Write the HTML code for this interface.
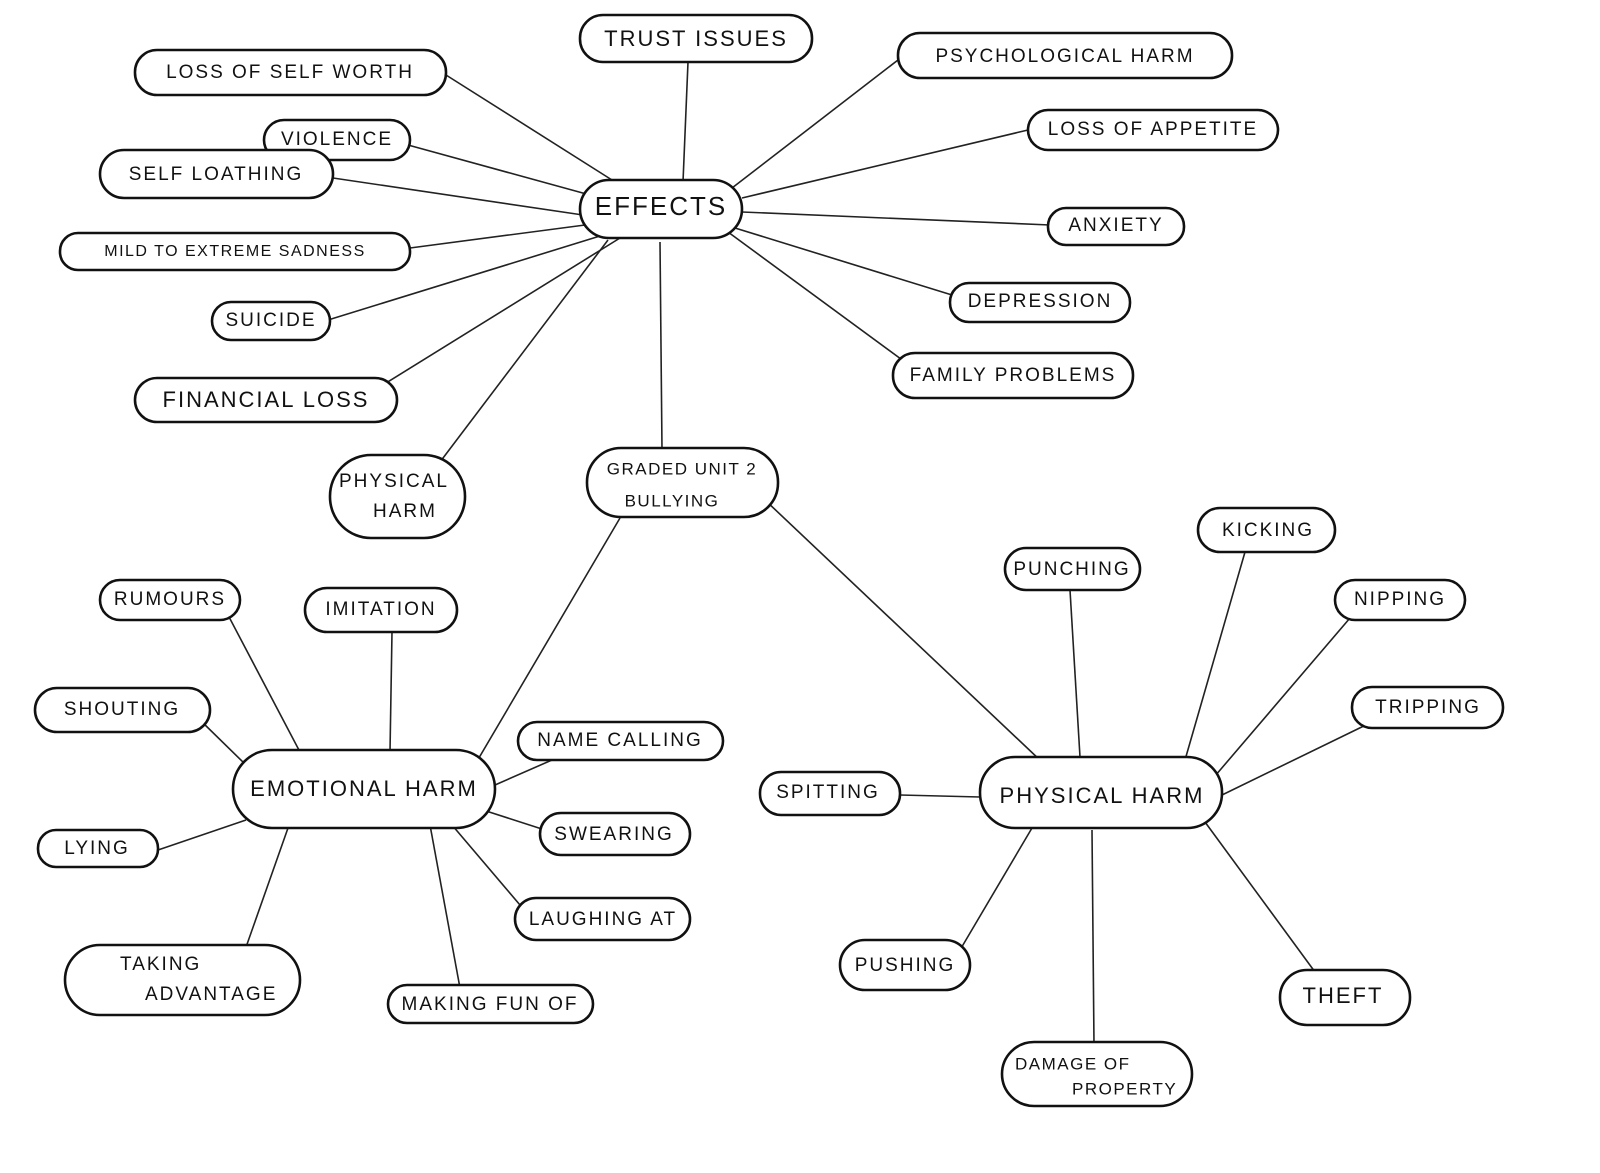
<!DOCTYPE html>
<html><head><meta charset="utf-8"><style>
html,body{margin:0;padding:0;background:#fff;width:1600px;height:1173px;overflow:hidden}
svg text{font-family:"Liberation Sans",sans-serif;font-size:19px;fill:#111;text-anchor:middle;dominant-baseline:middle;letter-spacing:2px}
</style></head><body>
<svg width="1600" height="1173" viewBox="0 0 1600 1173" xmlns="http://www.w3.org/2000/svg">
<g stroke="#222" stroke-width="1.6" fill="none">
<line x1="683" y1="182" x2="688" y2="62"/>
<line x1="612" y1="180" x2="446" y2="75"/>
<line x1="732" y1="188" x2="898" y2="60"/>
<line x1="590" y1="195" x2="408" y2="145"/>
<line x1="583" y1="215" x2="333" y2="178"/>
<line x1="742" y1="198" x2="1028" y2="130"/>
<line x1="585" y1="225" x2="410" y2="248"/>
<line x1="742" y1="212" x2="1050" y2="225"/>
<line x1="600" y1="236" x2="328" y2="320"/>
<line x1="735" y1="228" x2="952" y2="295"/>
<line x1="728" y1="232" x2="905" y2="362"/>
<line x1="620" y1="238" x2="378" y2="388"/>
<line x1="608" y1="240" x2="440" y2="462"/>
<line x1="660" y1="242" x2="662" y2="450"/>
<line x1="620" y1="518" x2="473" y2="768"/>
<line x1="765" y1="500" x2="1042" y2="762"/>
<line x1="228" y1="615" x2="300" y2="752"/>
<line x1="392" y1="632" x2="390" y2="752"/>
<line x1="200" y1="720" x2="246" y2="765"/>
<line x1="552" y1="760" x2="495" y2="785"/>
<line x1="483" y1="810" x2="545" y2="830"/>
<line x1="158" y1="850" x2="246" y2="820"/>
<line x1="452" y1="825" x2="520" y2="905"/>
<line x1="288" y1="828" x2="245" y2="950"/>
<line x1="430" y1="825" x2="460" y2="988"/>
<line x1="900" y1="795" x2="980" y2="797"/>
<line x1="1070" y1="590" x2="1080" y2="757"/>
<line x1="1245" y1="552" x2="1185" y2="760"/>
<line x1="1350" y1="618" x2="1215" y2="776"/>
<line x1="1372" y1="722" x2="1222" y2="795"/>
<line x1="1032" y1="828" x2="960" y2="950"/>
<line x1="1092" y1="830" x2="1094" y2="1045"/>
<line x1="1205" y1="822" x2="1315" y2="972"/>
</g>
<g stroke="#111" stroke-width="2.6" fill="#fff">
<rect x="580" y="15" width="232" height="47" rx="23"/>
<rect x="135" y="50" width="311" height="45" rx="22"/>
<rect x="898" y="33" width="334" height="45" rx="22"/>
<rect x="264" y="120" width="146" height="40" rx="20"/>
<rect x="100" y="150" width="233" height="48" rx="24"/>
<rect x="580" y="180" width="162" height="58" rx="29"/>
<rect x="1028" y="110" width="250" height="40" rx="20"/>
<rect x="60" y="233" width="350" height="37" rx="18"/>
<rect x="1048" y="208" width="136" height="37" rx="18"/>
<rect x="212" y="302" width="118" height="38" rx="19"/>
<rect x="950" y="283" width="180" height="39" rx="19"/>
<rect x="893" y="353" width="240" height="45" rx="22"/>
<rect x="135" y="378" width="262" height="44" rx="22"/>
<rect x="330" y="455" width="135" height="83" rx="41"/>
<rect x="587" y="448" width="191" height="69" rx="34"/>
<rect x="100" y="580" width="140" height="40" rx="20"/>
<rect x="305" y="588" width="152" height="44" rx="22"/>
<rect x="35" y="688" width="175" height="44" rx="22"/>
<rect x="518" y="722" width="205" height="38" rx="19"/>
<rect x="233" y="750" width="262" height="78" rx="39"/>
<rect x="760" y="772" width="140" height="43" rx="21"/>
<rect x="980" y="757" width="242" height="71" rx="35"/>
<rect x="540" y="813" width="150" height="42" rx="21"/>
<rect x="38" y="830" width="120" height="37" rx="18"/>
<rect x="515" y="898" width="175" height="42" rx="21"/>
<rect x="65" y="945" width="235" height="70" rx="35"/>
<rect x="388" y="985" width="205" height="38" rx="19"/>
<rect x="840" y="940" width="130" height="50" rx="25"/>
<rect x="1280" y="970" width="130" height="55" rx="27"/>
<rect x="1002" y="1042" width="190" height="64" rx="32"/>
<rect x="1005" y="548" width="135" height="42" rx="21"/>
<rect x="1198" y="508" width="137" height="44" rx="22"/>
<rect x="1335" y="580" width="130" height="40" rx="20"/>
<rect x="1352" y="687" width="151" height="41" rx="20"/>
</g>
<g>
<text x="696" y="40" style="font-size:22px">TRUST ISSUES</text>
<text x="290" y="73">LOSS OF SELF WORTH</text>
<text x="1065" y="57">PSYCHOLOGICAL HARM</text>
<text x="337" y="140">VIOLENCE</text>
<text x="216" y="175">SELF LOATHING</text>
<text x="661" y="208" style="font-size:26px">EFFECTS</text>
<text x="1153" y="130">LOSS OF APPETITE</text>
<text x="235" y="252" style="font-size:16px;letter-spacing:1.5px">MILD TO EXTREME SADNESS</text>
<text x="1116" y="226">ANXIETY</text>
<text x="271" y="321">SUICIDE</text>
<text x="1040" y="302">DEPRESSION</text>
<text x="1013" y="376">FAMILY PROBLEMS</text>
<text x="266" y="401" style="font-size:22px">FINANCIAL LOSS</text>
<text x="394" y="482">PHYSICAL</text>
<text x="405" y="512">HARM</text>
<text x="682" y="470" style="font-size:17px;letter-spacing:1.5px">GRADED UNIT 2</text>
<text x="672" y="502" style="font-size:17px;letter-spacing:1.5px">BULLYING</text>
<text x="170" y="600">RUMOURS</text>
<text x="381" y="610">IMITATION</text>
<text x="122" y="710">SHOUTING</text>
<text x="620" y="741">NAME CALLING</text>
<text x="364" y="790" style="font-size:22px">EMOTIONAL HARM</text>
<text x="828" y="793">SPITTING</text>
<text x="1102" y="797" style="font-size:22px">PHYSICAL HARM</text>
<text x="614" y="835">SWEARING</text>
<text x="97" y="849">LYING</text>
<text x="603" y="920">LAUGHING AT</text>
<text x="120" y="965" style="text-anchor:start">TAKING</text>
<text x="145" y="995" style="text-anchor:start">ADVANTAGE</text>
<text x="490" y="1005">MAKING FUN OF</text>
<text x="905" y="966">PUSHING</text>
<text x="1343" y="997" style="font-size:22px">THEFT</text>
<text x="1015" y="1065" style="text-anchor:start;font-size:17px;letter-spacing:1.5px">DAMAGE OF</text>
<text x="1072" y="1090" style="text-anchor:start;font-size:17px;letter-spacing:1.5px">PROPERTY</text>
<text x="1072" y="570">PUNCHING</text>
<text x="1268" y="531">KICKING</text>
<text x="1400" y="600">NIPPING</text>
<text x="1428" y="708">TRIPPING</text>
</g>
</svg>
</body></html>
